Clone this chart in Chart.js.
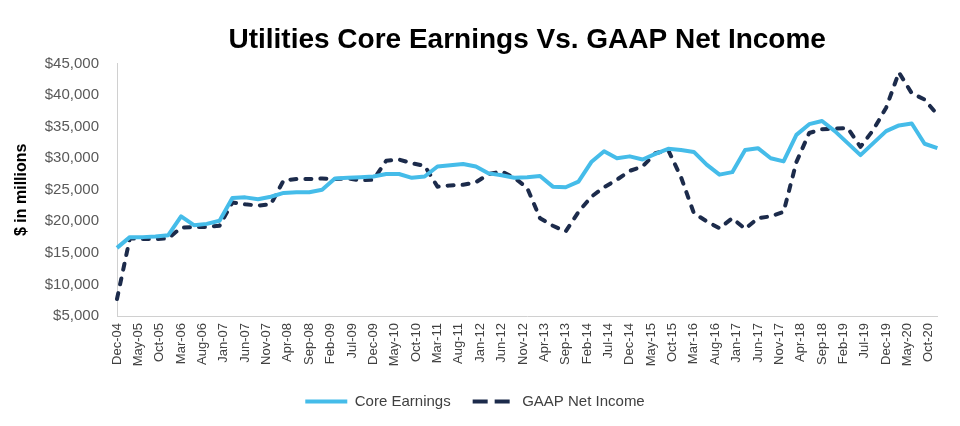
<!DOCTYPE html>
<html><head><meta charset="utf-8">
<script src="https://cdn.jsdelivr.net/npm/chart.js@4.4.1/dist/chart.umd.min.js"></script>
<style>html,body{margin:0;padding:0;background:#fff}#wrap{width:960px;height:426px}</style>
</head><body><div id="wrap"><canvas id="c"></canvas></div>
<script>
const quarterDates = ['Dec-04','Mar-05','Jun-05','Sep-05','Dec-05','Mar-06','Jun-06','Sep-06','Dec-06','Mar-07','Jun-07','Sep-07','Dec-07','Mar-08','Jun-08','Sep-08','Dec-08','Mar-09','Jun-09','Sep-09','Dec-09','Mar-10','Jun-10','Sep-10','Dec-10','Mar-11','Jun-11','Sep-11','Dec-11','Mar-12','Jun-12','Sep-12','Dec-12','Mar-13','Jun-13','Sep-13','Dec-13','Mar-14','Jun-14','Sep-14','Dec-14','Mar-15','Jun-15','Sep-15','Dec-15','Mar-16','Jun-16','Sep-16','Dec-16','Mar-17','Jun-17','Sep-17','Dec-17','Mar-18','Jun-18','Sep-18','Dec-18','Mar-19','Jun-19','Sep-19','Dec-19','Mar-20','Jun-20','Sep-20','Dec-20'];
const coreEarnings = [15800,17500,17500,17600,17800,20800,19400,19600,20100,23700,23800,23500,23900,24500,24600,24600,25000,26800,26900,27000,27100,27500,27500,26900,27100,28700,28900,29100,28700,27600,27300,26900,27000,27200,25500,25400,26300,29400,31100,30000,30300,29800,30700,31500,31300,31000,29000,27400,27800,31300,31600,30000,29500,33700,35400,35900,34300,32400,30500,32400,34300,35200,35500,32300,31600];
const gaapNetIncome = [7700,17300,17200,17200,17300,19000,19100,19100,19300,23000,22700,22500,22700,26500,26700,26700,26800,26700,26800,26500,26600,29600,29800,29200,28800,25500,25700,25800,26200,27500,27900,26900,25300,20500,19300,18400,21500,23900,25400,26600,28000,28700,30800,31300,27000,21300,20000,18900,20500,18800,20500,20800,21500,29400,34000,34600,34700,34800,31800,34500,38000,43600,40300,39300,36900];
const monthNames = ['Jan','Feb','Mar','Apr','May','Jun','Jul','Aug','Sep','Oct','Nov','Dec'];
const axisMonths = [];
for (let y = 2004; y <= 2020; y++) {
  for (let m = 0; m < 12; m++) {
    if (y === 2004 && m < 11) continue;
    axisMonths.push(monthNames[m] + '-' + String(y % 100).padStart(2, '0'));
  }
}
const yMin = 5000, yMax = 45000, yStep = 5000;
const labelEvery = 5;

const FONT = "'Liberation Sans', Arial, sans-serif";
const toPoints = vals => vals.map((v, i) => ({x: quarterDates[i], y: v}));
const legendDash = [[], [15, 7]];

new Chart(document.getElementById('c'), {
  type: 'line',
  data: {
    labels: axisMonths,
    datasets: [
      {label: 'Core Earnings', data: toPoints(coreEarnings), borderColor: '#45BCE9', backgroundColor: '#45BCE9',
       borderWidth: 4, pointRadius: 0, tension: 0, borderJoinStyle: 'round'},
      {label: 'GAAP Net Income', data: toPoints(gaapNetIncome), borderColor: '#1C2B4B', backgroundColor: '#1C2B4B',
       borderWidth: 4, pointRadius: 0, tension: 0, borderDash: [6, 9], borderCapStyle: 'round', borderJoinStyle: 'round'}
    ]
  },
  options: {
    responsive: true, maintainAspectRatio: false, animation: false,
    layout: {padding: {left: 8, right: 18, top: 0, bottom: 7}},
    plugins: {
      title: {display: true, text: 'Utilities Core Earnings Vs. GAAP Net Income', fullSize: false,
        color: '#000', font: {family: FONT, size: 28, weight: 'bold'}, padding: {top: 23, bottom: 7}},
      legend: {position: 'bottom',
        labels: {usePointStyle: true, pointStyle: 'line', pointStyleWidth: 42, color: '#404040',
          font: {family: FONT, size: 15}, padding: 22,
          generateLabels: chart => {
            const items = Chart.defaults.plugins.legend.labels.generateLabels(chart);
            items.forEach((it, i) => {
              const ds = chart.data.datasets[i];
              it.lineDash = legendDash[i];
              it.lineWidth = ds.borderWidth;
              it.strokeStyle = ds.borderColor;
              it.lineCap = 'butt';
            });
            return items;
          }}},
      tooltip: {enabled: false}
    },
    scales: {
      x: {
        grid: {display: false, drawTicks: false},
        border: {display: true, color: '#d0d0d0', width: 1},
        ticks: {autoSkip: false, maxRotation: 90, minRotation: 90, padding: 7, color: '#404040',
          font: {family: FONT, size: 13},
          callback: function(v, i) { return i % labelEvery === 0 ? this.getLabelForValue(v) : ''; }},
        afterFit: s => { s.height = 56; }
      },
      y: {
        min: yMin, max: yMax,
        grid: {display: false, drawTicks: false},
        border: {display: true, color: '#d0d0d0', width: 1},
        ticks: {stepSize: yStep, padding: 18, color: '#595959', font: {family: FONT, size: 15},
          callback: v => '$' + v.toLocaleString('en-US')},
        title: {display: true, text: '$ in millions', color: '#000', font: {family: FONT, size: 16, weight: 'bold'}, padding: {top: 4, bottom: 4}},
        afterFit: s => { s.width = 109; }
      }
    }
  }
});
</script></body></html>
